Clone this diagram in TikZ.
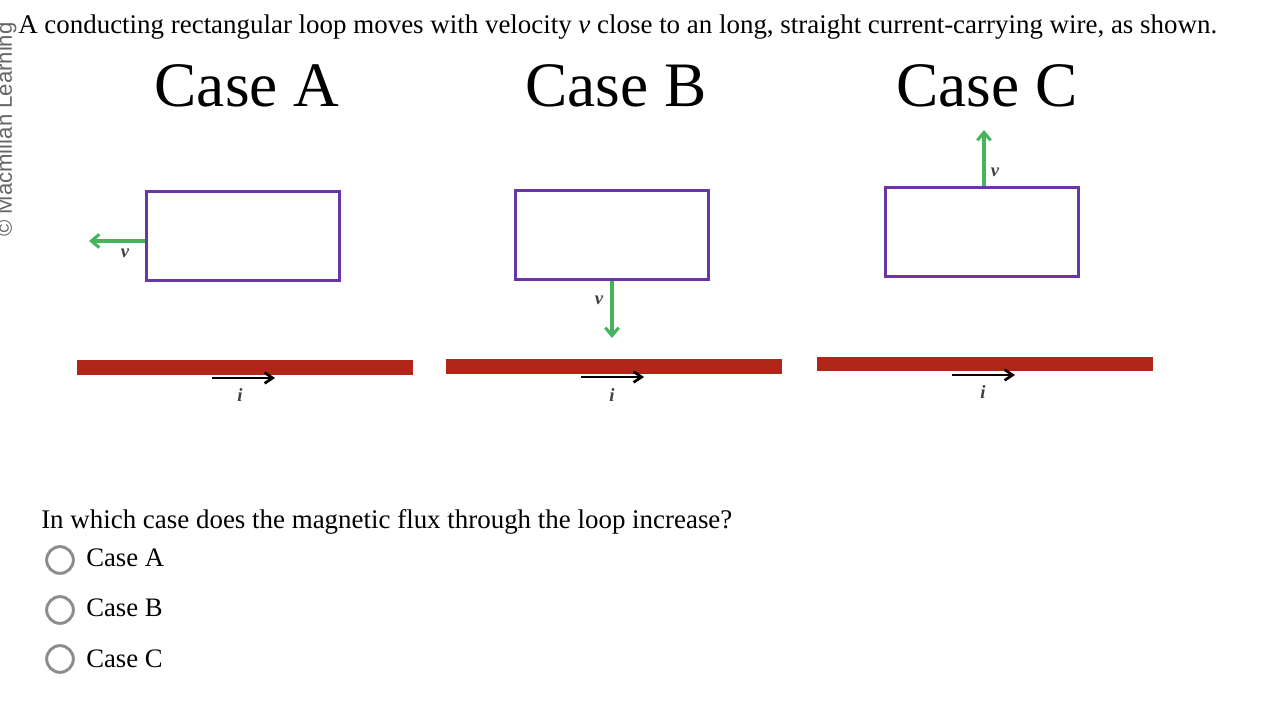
\documentclass[tikz,border=0pt]{standalone}
\usepackage{fontspec}
\setmainfont{Liberation Serif}
\setsansfont{Liberation Sans}
\usetikzlibrary{arrows.meta}
\begin{document}
\begin{tikzpicture}[
    x=0.75pt, y=-0.75pt,
    heading/.style={anchor=base, inner sep=0pt, font=\fontsize{47.5}{47.5}\selectfont},
    bodytext/.style={anchor=base west, inner sep=0pt, font=\fontsize{20.2}{20.2}\selectfont},
    optiontext/.style={anchor=base west, inner sep=0pt, font=\fontsize{20}{20}\selectfont},
    loopbox/.style={rectangle, draw=loopviolet, line width=2pt, minimum width=144.5pt, minimum height=67pt, inner sep=0pt},
    wire/.style={rectangle, fill=wirered, minimum width=251.5pt, minimum height=11pt, inner sep=0pt},
    varrow/.style={->, >={Straight Barb[length=6pt, width=10pt]}, draw=arrowgreen, line width=2.3pt},
    iarrow/.style={->, >={Straight Barb[length=6pt, width=8pt]}, black, line width=2pt},
    symbol/.style={inner sep=0pt, font=\fontsize{14}{14}\selectfont\bfseries\itshape, text=black!75},
    radio/.style={circle, draw=radiogray, line width=2.2pt, minimum size=20pt, inner sep=0pt}
]
\definecolor{loopviolet}{HTML}{6A35A5}
\definecolor{wirered}{HTML}{B0271A}
\definecolor{arrowgreen}{HTML}{45B45C}
\definecolor{radiogray}{HTML}{8C8C8C}
\useasboundingbox (0,0) rectangle (1272,706);

% Watermark
\begin{scope}
\clip (0,0) rectangle (1272,706);
\node[rotate=90, anchor=base west, inner sep=0pt, text=black!60, font=\sffamily\fontsize{16.6}{16.6}\selectfont] (mark) at (12,237) {© Macmillan Learning};
\end{scope}

% Question text
\node[bodytext] (title) at (18,34) {A conducting rectangular loop moves with velocity \textit{v} close to an long, straight current-carrying wire, as shown.};
\node[bodytext] (question) at (41,528) {In which case does the magnetic flux through the loop increase?};

% Headings
\node[heading] (headA) at (247,107) {Case A};
\node[heading] (headB) at (616,107) {Case B};
\node[heading] (headC) at (987,107) {Case C};

% Loops
\node[loopbox] (loopA) at (243,236) {};
\node[loopbox] (loopB) at (612,235) {};
\node[loopbox] (loopC) at (982,232) {};

% Wires
\node[wire] (wireA) at (245,367.5) {};
\node[wire] (wireB) at (614,366.5) {};
\node[wire] (wireC) at (985,364) {};

% Velocity arrows
\coordinate (tipA) at (89,241);
\coordinate (tipB) at (612,338);
\coordinate (tipC) at (984,130);
\draw[varrow] ([yshift=-3.75pt]loopA.west) -- (tipA);
\draw[varrow] (loopB.south) -- (tipB);
\draw[varrow] ([xshift=1.5pt]loopC.north) -- (tipC);
\node[symbol] (vA) at (125,253) {v};
\node[symbol] (vB) at (599,300) {v};
\node[symbol] (vC) at (995,172) {v};

% Current arrows
\coordinate (iA0) at (212,378);
\coordinate (iA1) at (275,378);
\coordinate (iB0) at (581,377);
\coordinate (iB1) at (644,377);
\coordinate (iC0) at (952,375);
\coordinate (iC1) at (1015,375);
\draw[iarrow] (iA0) -- (iA1);
\draw[iarrow] (iB0) -- (iB1);
\draw[iarrow] (iC0) -- (iC1);
\node[symbol] (iA) at (240,395) {i};
\node[symbol] (iB) at (612,395) {i};
\node[symbol] (iC) at (983,392) {i};

% Options
\node[radio] (radioA) at (60,560) {};
\node[radio] (radioB) at (60,610) {};
\node[radio] (radioC) at (60,659) {};
\node[optiontext] (optA) at (86,566) {Case A};
\node[optiontext] (optB) at (86,616) {Case B};
\node[optiontext] (optC) at (86,667) {Case C};
\end{tikzpicture}
\end{document}
